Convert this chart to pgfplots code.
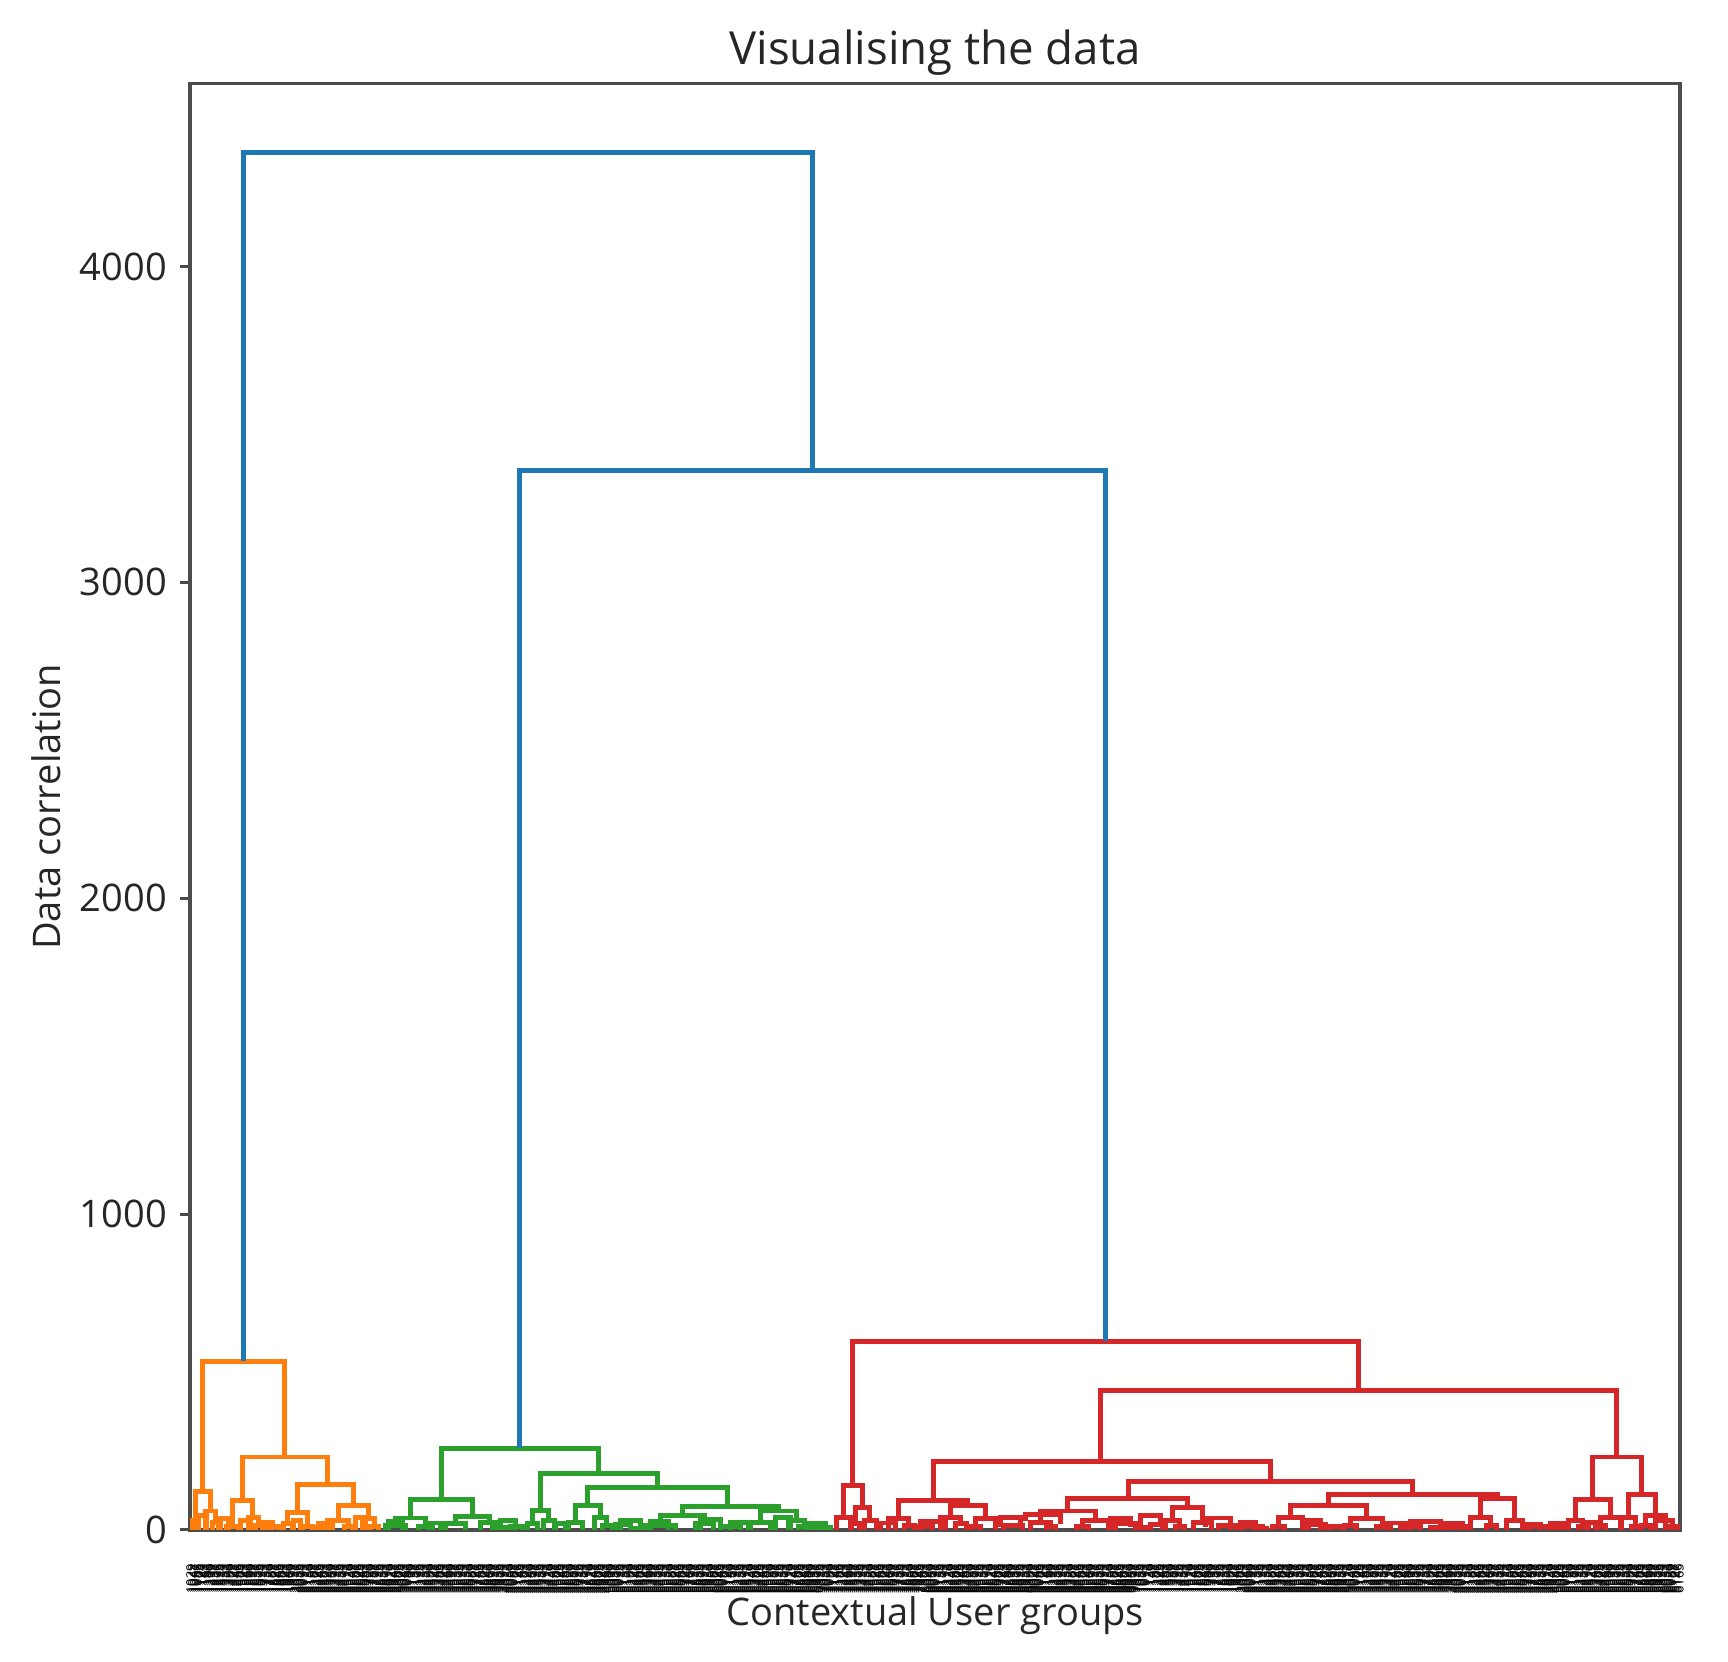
\documentclass[border=0pt]{standalone}
\usepackage{fontspec}
\setmainfont{Open Sans}
\usepackage{pgfplots}
\pgfplotsset{compat=1.18}
\definecolor{c0}{HTML}{1F77B4}
\definecolor{c1}{HTML}{FF7F0E}
\definecolor{c2}{HTML}{2CA02C}
\definecolor{c3}{HTML}{D62728}
\definecolor{txt}{HTML}{262626}

\begin{document}
\begin{tikzpicture}
\begin{axis}[
  scale only axis, width=392pt, height=380.5pt,
  at={(0,0)}, anchor=south west,
  xmin=190, xmax=1680, ymin=0, ymax=4579,
  unbounded coords=jump,
  axis line style={black!70, line width=0.9pt},
  tick align=outside, major tick length=2.6pt, tick pos=left,
  ytick={0,1000,2000,3000,4000},
  ytick style={black!70, line width=0.8pt},
  yticklabel style={font=\fontsize{10}{12}\selectfont, text=txt},
  /pgf/number format/assume math mode=true,
  /pgf/number format/1000 sep={},
  xtick={191,193,...,1679},
  xtick style={draw=none},
  xticklabel={\pgfmathparse{int(mod(\ticknum*19+29,9000)+1000)}\rotatebox{90}{\pgfmathresult}},
  xticklabel style={anchor=north, inner sep=0pt, yshift=-6.2pt,
    font=\fontsize{3.4}{4.1}\selectfont, text=black},
  title={Visualising the data},
  title style={at={(axis description cs:0.5,1)}, anchor=base, yshift=-1pt,
    font=\fontsize{12}{14}\selectfont, text=txt},
  xlabel={Contextual User groups},
  xlabel style={at={(axis description cs:0.5,-0.0594)}, anchor=center,
    font=\fontsize{10}{12}\selectfont, text=txt},
  ylabel={Data correlation},
  ylabel style={at={(axis description cs:-0.0967,0.5)}, anchor=center,
    font=\fontsize{10}{12}\selectfont, text=txt},
]
% orange cluster
\addplot[c1, line width=1.3pt] table {
x y
202.5 123
202.5 534
284.5 534
284.5 231
nan nan
195 30
195 123
210 123
210 60
nan nan
242 92
242 231
327 231
327 145
nan nan
297 54
297 145
353 145
353 76
nan nan
192 0
192 30
198 30
198 0
nan nan
205 0
205 60
215 60
215 25
nan nan
212 0
212 25
220 25
220 0
nan nan
232 10
232 92
252 92
252 40
nan nan
226 0
226 10
238 10
238 0
nan nan
248 0
248 40
258 40
258 15
nan nan
255 0
255 15
264 15
264 0
nan nan
268 0
268 12
278 12
278 0
nan nan
287 20
287 54
307 54
307 10
nan nan
283 0
283 20
292 20
292 0
nan nan
302 0
302 10
312 10
312 0
nan nan
315 0
315 8
324 8
324 0
nan nan
338 30
338 76
368 76
368 35
nan nan
327 0
327 30
348 30
348 12
nan nan
344 0
344 12
352 12
352 0
nan nan
362 0
362 35
374 35
374 10
nan nan
370 0
370 10
378 10
378 0
nan nan
196 0
196 45
206 45
206 0
nan nan
218 0
218 35
228 35
228 0
nan nan
240 0
240 30
250 30
250 0
nan nan
262 0
262 25
272 25
272 0
nan nan
293 0
293 30
300 30
300 0
nan nan
318 0
318 22
332 22
332 0
nan nan
355 0
355 40
365 40
365 0
};
% green cluster
\addplot[c2, line width=1.3pt] table {
x y
441 95
441 259
598.5 259
598.5 180
nan nan
410 38
410 95
472 95
472 44
nan nan
540 63
540 180
657 180
657 133
nan nan
587.5 76
587.5 133
727 133
727 73
nan nan
682 47
682 73
778 73
778 60
nan nan
395 15
395 38
425 38
425 10
nan nan
385 0
385 15
405 15
405 0
nan nan
418 0
418 10
432 10
432 0
nan nan
455 20
455 44
489 44
489 25
nan nan
445 0
445 20
465 20
465 0
nan nan
480 0
480 25
498 25
498 8
nan nan
492 0
492 8
505 8
505 0
nan nan
510 0
510 12
522 12
522 0
nan nan
532 20
532 63
548 63
548 30
nan nan
527 0
527 20
537 20
537 0
nan nan
543 0
543 30
554 30
554 0
nan nan
575 25
575 76
600 76
600 40
nan nan
568 0
568 25
582 25
582 0
nan nan
594 0
594 40
606 40
606 15
nan nan
602 0
602 15
612 15
612 0
nan nan
615 0
615 18
630 18
630 0
nan nan
633 0
633 6
643 6
643 0
nan nan
660 15
660 47
704 47
704 20
nan nan
645 0
645 15
675 15
675 0
nan nan
695 0
695 20
713 20
713 0
nan nan
720 0
720 10
740 10
740 0
nan nan
760 25
760 60
796 60
796 30
nan nan
750 0
750 25
770 25
770 0
nan nan
788 0
788 30
804 30
804 10
nan nan
798 0
798 10
810 10
810 0
nan nan
815 0
815 8
830 8
830 0
nan nan
388 0
388 28
402 28
402 0
nan nan
428 0
428 22
440 22
440 0
nan nan
500 0
500 30
515 30
515 0
nan nan
555 0
555 20
565 20
565 0
nan nan
620 0
620 30
640 30
640 0
nan nan
650 0
650 28
668 28
668 0
nan nan
700 0
700 32
720 32
720 0
nan nan
730 0
730 25
748 25
748 0
nan nan
775 0
775 40
790 40
790 0
nan nan
805 0
805 20
825 20
825 0
};
% red cluster
\addplot[c3, line width=1.3pt] table {
x y
852.5 142
852.5 597
1358 597
1358 443
nan nan
1100.5 218
1100.5 443
1616 443
1616 231
nan nan
933 92
933 218
1270 218
1270 152
nan nan
1128 101
1128 152
1412.5 152
1412.5 111
nan nan
1067.5 60
1067.5 101
1187 101
1187 70
nan nan
1328 76
1328 111
1497 111
1497 101
nan nan
1480 40
1480 101
1514 101
1514 30
nan nan
1592.5 95
1592.5 231
1641.5 231
1641.5 111
nan nan
1575 30
1575 95
1610 95
1610 40
nan nan
1628 40
1628 111
1655 111
1655 45
nan nan
843 40
843 142
862 142
862 70
nan nan
898 35
898 92
967.5 92
967.5 76
nan nan
950 40
950 76
985 76
985 35
nan nan
1040 25
1040 60
1095 60
1095 30
nan nan
1172 30
1172 70
1202 70
1202 25
nan nan
1290 40
1290 76
1366 76
1366 35
nan nan
836 0
836 40
850 40
850 0
nan nan
855 20
855 70
869 70
869 30
nan nan
851 0
851 20
859 20
859 0
nan nan
864 0
864 30
876 30
876 0
nan nan
888 0
888 35
908 35
908 15
nan nan
904 0
904 15
914 15
914 0
nan nan
918 0
918 10
932 10
932 0
nan nan
940 0
940 40
960 40
960 20
nan nan
955 0
955 20
966 20
966 0
nan nan
975 10
975 35
995 35
995 0
nan nan
970 0
970 10
980 10
980 0
nan nan
1003 0
1003 15
1022 15
1022 0
nan nan
1030 0
1030 25
1050 25
1050 10
nan nan
1046 0
1046 10
1055 10
1055 0
nan nan
1082 12
1082 30
1108 30
1108 0
nan nan
1076 0
1076 12
1088 12
1088 0
nan nan
1115 0
1115 20
1140 20
1140 8
nan nan
1135 0
1135 8
1146 8
1146 0
nan nan
1150 0
1150 18
1162 18
1162 0
nan nan
1165 0
1165 30
1179 30
1179 10
nan nan
1175 0
1175 10
1184 10
1184 0
nan nan
1193 0
1193 25
1211 25
1211 0
nan nan
1218 0
1218 14
1236 14
1236 0
nan nan
1242 0
1242 12
1262 12
1262 5
nan nan
1258 0
1258 5
1266 5
1266 0
nan nan
1278 10
1278 40
1302 40
1302 0
nan nan
1272 0
1272 10
1284 10
1284 0
nan nan
1308 0
1308 16
1325 16
1325 0
nan nan
1330 0
1330 12
1342 12
1342 0
nan nan
1350 15
1350 35
1382 35
1382 10
nan nan
1344 0
1344 15
1356 15
1356 0
nan nan
1376 0
1376 10
1390 10
1390 0
nan nan
1400 0
1400 12
1420 12
1420 0
nan nan
1430 0
1430 8
1450 8
1450 0
nan nan
1455 0
1455 10
1468 10
1468 0
nan nan
1470 0
1470 40
1490 40
1490 15
nan nan
1486 0
1486 15
1496 15
1496 0
nan nan
1506 0
1506 30
1522 30
1522 0
nan nan
1528 0
1528 10
1548 10
1548 0
nan nan
1552 0
1552 8
1566 8
1566 0
nan nan
1568 0
1568 30
1582 30
1582 10
nan nan
1578 0
1578 10
1588 10
1588 0
nan nan
1600 15
1600 40
1620 40
1620 0
nan nan
1595 0
1595 15
1605 15
1605 0
nan nan
1621 0
1621 40
1635 40
1635 10
nan nan
1631 0
1631 10
1640 10
1640 0
nan nan
1645 15
1645 45
1665 45
1665 0
nan nan
1641 0
1641 15
1650 15
1650 0
nan nan
1668 0
1668 12
1678 12
1678 0
nan nan
880 0
880 22
895 22
895 0
nan nan
920 0
920 28
945 28
945 0
nan nan
1000 10
1000 40
1020 40
1020 5
nan nan
1025 30
1025 48
1060 48
1060 20
nan nan
1110 0
1110 35
1130 35
1130 10
nan nan
1140 15
1140 45
1160 45
1160 10
nan nan
1205 10
1205 38
1230 38
1230 0
nan nan
1240 0
1240 25
1255 25
1255 0
nan nan
1305 0
1305 30
1320 30
1320 0
nan nan
1385 0
1385 22
1405 22
1405 0
nan nan
1410 0
1410 28
1440 28
1440 0
nan nan
1445 0
1445 20
1462 20
1462 0
nan nan
1525 0
1525 18
1540 18
1540 0
nan nan
1550 0
1550 22
1565 22
1565 0
nan nan
1585 0
1585 25
1598 25
1598 0
nan nan
1655 0
1655 30
1672 30
1672 0
};
% blue top links
\addplot[c0, line width=1.3pt] table {
x y
243.5 534
243.5 4360
812.75 4360
812.75 3353
nan nan
519.75 259
519.75 3353
1105.25 3353
1105.25 597
};
\end{axis}
\path (-50pt,-34.7pt) rectangle (404.6pt,402.5pt);
\end{tikzpicture}
\end{document}
